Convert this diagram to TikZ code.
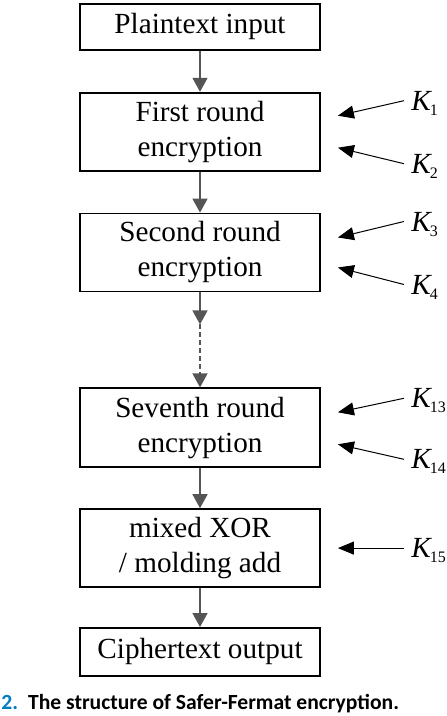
\documentclass[tikz,border=0pt]{standalone}
\usepackage{fontspec}
\setmainfont{Liberation Serif}
\newfontfamily\capfont{Carlito}
\usepackage{xcolor}
\usetikzlibrary{arrows.meta, positioning, calc}
\definecolor{capblue}{RGB}{0,125,195}
\definecolor{wiregray}{RGB}{85,85,85}
\newcommand{\rk}[1]{{\itshape K}\kern-0.4pt\raisebox{-2.5pt}{\fontsize{8}{8}\selectfont #1}}
\tikzset{
    stage/.style={
        rectangle,
        draw=black,
        line width=0.9pt,
        minimum width=120pt,
        minimum height=39pt,
        inner sep=0pt,
        align=center,
        font=\fontsize{14.6}{17.5}\selectfont
    },
    flow/.style={
        draw=wiregray,
        line width=0.8pt,
        -{Triangle[length=7pt,width=7.5pt]}
    },
    skipflow/.style={
        flow,
        dash pattern=on 2.5pt off 1.5pt
    },
    keyarrow/.style={
        draw=black,
        line width=0.5pt,
        -{Triangle[length=8pt,width=6.5pt]}
    },
    keylbl/.style={
        anchor=west,
        inner xsep=3.5pt,
        inner ysep=0pt,
        text depth=0pt,
        font=\fontsize{14.6}{17.5}\selectfont
    }
}

\begin{document}
\begin{tikzpicture}[node distance=20.5pt]
\useasboundingbox (0,0) rectangle (223pt,-358pt);

% Main chain
\node[stage, minimum height=23pt, anchor=north] (plain) at (100pt,-1.5pt) {Plaintext input};
\node[stage, below=of plain] (r1) {First round\\encryption};
\node[stage, below=of r1] (r2) {Second round\\encryption};
\node[stage, minimum height=39.5pt, below=47.5pt of r2] (r7) {Seventh round\\encryption};
\node[stage, below=20pt of r7] (mix) {mixed XOR\\/ molding add};
\node[stage, minimum height=24pt, below=19.5pt of mix] (cipher) {Ciphertext output};

\coordinate (skip) at ($(r2.south)+(0,-16pt)$);

\draw[flow] (plain) -- (r1);
\draw[flow] (r1) -- (r2);
\draw[flow] (r2) -- (skip);
\draw[skipflow] (skip) -- (r7);
\draw[flow] (r7) -- (mix);
\draw[flow] (mix) -- (cipher);

% Round keys
\node[keylbl] (k1) at ($(r1.east)+(41.5pt,15.5pt)$) {\rk{1}};
\node[keylbl] (k2) at ($(r1.east)+(41.5pt,-16pt)$) {\rk{2}};
\node[keylbl] (k3) at ($(r2.east)+(41.5pt,15.5pt)$) {\rk{3}};
\node[keylbl] (k4) at ($(r2.east)+(41.5pt,-16pt)$) {\rk{4}};
\node[keylbl] (k13) at ($(r7.east)+(41.5pt,14.75pt)$) {\rk{13}};
\node[keylbl] (k14) at ($(r7.east)+(41.5pt,-15.75pt)$) {\rk{14}};
\node[keylbl] (k15) at ($(mix.east)+(41.5pt,0pt)$) {\rk{15}};

\coordinate (t1) at ($(r1.east)+(8.5pt,8pt)$);
\coordinate (t2) at ($(r1.east)+(8.5pt,-8pt)$);
\coordinate (t3) at ($(r2.east)+(8.5pt,7.5pt)$);
\coordinate (t4) at ($(r2.east)+(8.5pt,-7.5pt)$);
\coordinate (t13) at ($(r7.east)+(8.5pt,7.75pt)$);
\coordinate (t14) at ($(r7.east)+(8.5pt,-8.25pt)$);
\coordinate (t15) at ($(mix.east)+(8.5pt,0pt)$);

\draw[keyarrow] (k1.west) -- (t1);
\draw[keyarrow] (k2.west) -- (t2);
\draw[keyarrow] (k3.west) -- (t3);
\draw[keyarrow] (k4.west) -- (t4);
\draw[keyarrow] (k13.west) -- (t13);
\draw[keyarrow] (k14.west) -- (t14);
\draw[keyarrow] (k15.west) -- (t15);

% Caption
\node[anchor=base west, inner sep=0pt, font=\capfont\bfseries\fontsize{10.8}{12}\selectfont] (caption) at (0.5pt,-354.5pt)
    {\textcolor{capblue}{2.}\hspace{5pt}The structure of Safer-Fermat encryption.};

\end{tikzpicture}
\end{document}
